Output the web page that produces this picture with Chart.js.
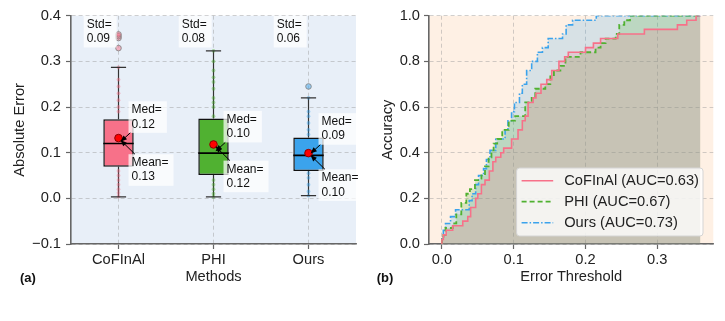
<!DOCTYPE html>
<html><head><meta charset="utf-8">
<script src="https://cdn.jsdelivr.net/npm/chart.js@4.4.1/dist/chart.umd.min.js"></script>
<style>
html,body{margin:0;padding:0;background:#fff;}
#wrap{position:relative;width:725px;height:321px;overflow:hidden;}
#c1{position:absolute;left:0;top:0;}
#c2{position:absolute;left:362px;top:0;}
</style></head><body>
<div id="wrap"><canvas id="c1" width="362" height="321"></canvas><canvas id="c2" width="363" height="321"></canvas></div>
<script>
// ---------- data: panel (a) ----------
const categories = ['CoFInAl', 'PHI', 'Ours'];
const q1 = [0.069, 0.051, 0.060];
const medians = [0.120, 0.099, 0.094];
const q3 = [0.173, 0.175, 0.133];
const whiskerLow = [0.003, 0.003, 0.006];
const whiskerHigh = [0.287, 0.323, 0.220];
const means = [0.132, 0.118, 0.099];
const stds = [0.09, 0.08, 0.06];
const outliers = [[0.329, 0.351, 0.355, 0.359], [], [0.245]];
const stripPoints = [
  [0.004, 0.012, 0.02, 0.03, 0.04, 0.05, 0.06, 0.19, 0.20, 0.215, 0.23, 0.245, 0.26, 0.287],
  [0.003, 0.01, 0.02, 0.03, 0.04, 0.18, 0.20, 0.21, 0.22, 0.24, 0.255, 0.265, 0.28, 0.30, 0.323],
  [0.006, 0.015, 0.03, 0.045, 0.055, 0.14, 0.15, 0.165, 0.18, 0.19, 0.22]
];
const yTicksA = [-0.1, 0.0, 0.1, 0.2, 0.3, 0.4];

// ---------- data: panel (b) ----------
const aucs = [0.63, 0.67, 0.73];
const cofinalThr = [0, 0.002, 0.006, 0.015, 0.029, 0.036, 0.040, 0.047, 0.050, 0.055, 0.060, 0.066, 0.071, 0.075, 0.082, 0.086, 0.097, 0.106, 0.112, 0.116, 0.120, 0.127, 0.131, 0.138, 0.146, 0.153, 0.163, 0.171, 0.176, 0.200, 0.211, 0.221, 0.245, 0.282, 0.328, 0.341, 0.354, 0.357, 0.360];
const cofinalAcc = [0, 0.02, 0.04, 0.06, 0.08, 0.10, 0.12, 0.16, 0.20, 0.22, 0.26, 0.28, 0.32, 0.36, 0.38, 0.40, 0.42, 0.46, 0.50, 0.54, 0.56, 0.62, 0.64, 0.66, 0.70, 0.72, 0.76, 0.80, 0.82, 0.84, 0.86, 0.88, 0.90, 0.92, 0.94, 0.96, 0.98, 1.00, 1.00];
const phiThr = [0, 0.002, 0.005, 0.015, 0.020, 0.027, 0.034, 0.039, 0.046, 0.055, 0.060, 0.065, 0.069, 0.072, 0.077, 0.084, 0.093, 0.102, 0.116, 0.125, 0.130, 0.144, 0.151, 0.156, 0.165, 0.172, 0.193, 0.214, 0.221, 0.228, 0.242, 0.247, 0.254, 0.262, 0.323, 0.360];
const phiAcc = [0, 0.02, 0.04, 0.07, 0.09, 0.13, 0.18, 0.22, 0.24, 0.28, 0.30, 0.34, 0.38, 0.41, 0.44, 0.46, 0.50, 0.54, 0.56, 0.62, 0.64, 0.68, 0.70, 0.74, 0.76, 0.78, 0.82, 0.84, 0.86, 0.88, 0.90, 0.92, 0.96, 0.98, 1.00, 1.00];
const oursThr = [0, 0.002, 0.005, 0.012, 0.019, 0.038, 0.042, 0.047, 0.051, 0.058, 0.062, 0.067, 0.075, 0.088, 0.092, 0.097, 0.101, 0.108, 0.112, 0.118, 0.125, 0.133, 0.140, 0.148, 0.168, 0.173, 0.182, 0.215, 0.242, 0.360];
const oursAcc = [0, 0.03, 0.06, 0.09, 0.12, 0.15, 0.19, 0.22, 0.26, 0.30, 0.33, 0.37, 0.41, 0.46, 0.50, 0.54, 0.58, 0.62, 0.66, 0.70, 0.76, 0.80, 0.84, 0.86, 0.90, 0.92, 0.96, 0.98, 1.00, 1.00];
const xTicksB = [0.0, 0.1, 0.2, 0.3];
const yTicksB = [0.0, 0.2, 0.4, 0.6, 0.8, 1.0];

// ---------- styles ----------
const FONT = '"Liberation Sans", Arial, Helvetica, sans-serif';
const colors = ['#f77189', '#50b131', '#3ba3ec'];
const BOX_HALF = 0.16, CAP_HALF = 0.08;
Chart.defaults.font.family = FONT;
Chart.defaults.font.size = 14.67;
Chart.defaults.color = '#222';

const fmtTick = v => (v < -1e-9 ? '\u2212' : '') + Math.abs(v).toFixed(1);

const bgPlugin = {
  id: 'bg',
  beforeDraw(chart, args, opts) {
    const {ctx, chartArea: a} = chart;
    ctx.save(); ctx.fillStyle = opts.color;
    ctx.fillRect(a.left, a.top, a.width, a.height); ctx.restore();
  }
};
const panelLabel = {
  id: 'panelLabel',
  afterDraw(chart, args, opts) {
    const ctx = chart.ctx;
    ctx.save(); ctx.font = 'bold 13px ' + FONT; ctx.fillStyle = '#111';
    ctx.textBaseline = 'middle'; ctx.textAlign = 'left';
    ctx.fillText(opts.text, opts.x, opts.y); ctx.restore();
  }
};

function axisCommon(width, tickPad) {
  return {
    grid: {color: 'rgba(150,150,150,0.55)', lineWidth: 0.8, tickLength: 5, tickColor: '#666', tickWidth: 1.2, tickBorderDash: [], offset: false},
    border: {display: true, color: '#666', width: 1.6, dash: [4, 3]},
    ticks: {padding: tickPad, color: '#222', autoSkip: false, maxRotation: 0, minRotation: 0}
  };
}

// ---------- panel (a) ----------
const whiskerData = [], capMedData = [], meanData = [], outData = [], outColors = [], stripData = [], stripColors = [];
categories.forEach((c, i) => {
  whiskerData.push({x: i, y: whiskerLow[i]}, {x: i, y: q1[i]}, {x: i, y: null}, {x: i, y: q3[i]}, {x: i, y: whiskerHigh[i]}, {x: i, y: null});
  capMedData.push({x: i - CAP_HALF, y: whiskerLow[i]}, {x: i + CAP_HALF, y: whiskerLow[i]}, {x: i, y: null},
                  {x: i - CAP_HALF, y: whiskerHigh[i]}, {x: i + CAP_HALF, y: whiskerHigh[i]}, {x: i, y: null});
  meanData.push({x: i, y: means[i]});
  outliers[i].forEach(v => { outData.push({x: i, y: v}); outColors.push(colors[i] + '80'); });
  stripPoints[i].forEach(v => { stripData.push({x: i, y: v}); stripColors.push(colors[i] + '70'); });
});
const medData = [];
categories.forEach((c, i) => { medData.push({x: i - BOX_HALF, y: medians[i]}, {x: i + BOX_HALF, y: medians[i]}, {x: i, y: null}); });

function labelBox(ctx, lines, tx, cy) {
  const LH = 14.3;
  const w = Math.max(...lines.map(s => ctx.measureText(s).width));
  const box = {l: tx - 3, r: tx + w + 5, t: cy - LH - 1.5, b: cy + LH + 1.5};
  ctx.fillStyle = 'rgba(255,255,255,0.72)';
  ctx.fillRect(box.l, box.t, box.r - box.l, box.b - box.t);
  ctx.fillStyle = '#111';
  ctx.fillText(lines[0], tx, cy - LH / 2);
  ctx.fillText(lines[1], tx, cy + LH / 2);
  return box;
}
function arrowFromBox(ctx, box, px, py) {
  const cx = (box.l + box.r) / 2, cy = (box.t + box.b) / 2;
  const dx = px - cx, dy = py - cy;
  const tx = dx > 0 ? (box.r - cx) / dx : (box.l - cx) / dx;
  const ty = dy > 0 ? (box.b - cy) / dy : (box.t - cy) / dy;
  const t = Math.min(Math.abs(tx), Math.abs(ty));
  const sx = cx + dx * t, sy = cy + dy * t;
  const len = Math.hypot(px - sx, py - sy);
  const ux = (px - sx) / len, uy = (py - sy) / len;
  const ex = px - ux * 2.7, ey = py - uy * 2.7;
  const hl = 6.5, hw = 2.6;
  ctx.strokeStyle = '#000'; ctx.fillStyle = '#000'; ctx.lineWidth = 1;
  ctx.beginPath(); ctx.moveTo(sx, sy); ctx.lineTo(ex - ux * hl * 0.8, ey - uy * hl * 0.8); ctx.stroke();
  ctx.beginPath();
  ctx.moveTo(ex, ey);
  ctx.lineTo(ex - ux * hl - uy * hw, ey - uy * hl + ux * hw);
  ctx.lineTo(ex - ux * hl + uy * hw, ey - uy * hl - ux * hw);
  ctx.closePath(); ctx.fill();
}
const annotPlugin = {
  id: 'annot',
  afterDatasetsDraw(chart) {
    const {ctx, scales: {x, y}} = chart;
    ctx.save();
    ctx.font = '12px ' + FONT; ctx.textBaseline = 'middle'; ctx.textAlign = 'left';
    categories.forEach((c, i) => {
      labelBox(ctx, ['Std=', stds[i].toFixed(2)], x.getPixelForValue(i - 0.335), y.getPixelForValue(0.365));
      const mb = labelBox(ctx, ['Med=', medians[i].toFixed(2)], x.getPixelForValue(i + 0.137), y.getPixelForValue(medians[i] + 0.058));
      const nb = labelBox(ctx, ['Mean=', means[i].toFixed(2)], x.getPixelForValue(i + 0.137), y.getPixelForValue(means[i] - 0.07));
      arrowFromBox(ctx, mb, x.getPixelForValue(i), y.getPixelForValue(medians[i]));
      arrowFromBox(ctx, nb, x.getPixelForValue(i), y.getPixelForValue(means[i]));
    });
    ctx.restore();
  }
};

const axA_x = axisCommon(0, 2);
const axA_y = axisCommon(0, 5);
new Chart(document.getElementById('c1'), {
  type: 'bar',
  data: {
    datasets: [
      {type: 'line', data: whiskerData, borderColor: '#333', borderWidth: 1.2, pointRadius: 0, spanGaps: false, order: 6},
      {type: 'scatter', data: stripData, backgroundColor: stripColors, borderWidth: 0, pointRadius: 1.9, order: 5},
      {type: 'bar', data: categories.map((c, i) => ({x: i, y: [q1[i], q3[i]]})), backgroundColor: colors, borderColor: '#111', borderWidth: 1.5, borderSkipped: false, barPercentage: 0.32, categoryPercentage: 1.0, order: 4},
      {type: 'line', data: capMedData, borderColor: '#333', borderWidth: 1.3, pointRadius: 0, spanGaps: false, order: 3},
      {type: 'line', data: medData, borderColor: '#000', borderWidth: 1.6, pointRadius: 0, spanGaps: false, order: 3},
      {type: 'scatter', data: outData, backgroundColor: outColors, borderColor: '#888', borderWidth: 0.9, pointRadius: 2.8, order: 2},
      {type: 'scatter', data: meanData, backgroundColor: '#ff0000', borderColor: '#8b0000', borderWidth: 1, pointRadius: 3.8, order: 1}
    ]
  },
  options: {
    responsive: false, animation: false, devicePixelRatio: 1,
    layout: {padding: {left: 0, right: 6, top: 15.7, bottom: 0}},
    plugins: {legend: {display: false}, tooltip: {enabled: false},
      bg: {color: '#e8eff8'}, panelLabel: {text: '(a)', x: 20, y: 278}},
    scales: {
      x: Object.assign({}, axA_x, {
        type: 'linear', min: -0.5, max: 2.5, offset: false,
        afterBuildTicks: s => { s.ticks = categories.map((c, i) => ({value: i})); },
        afterFit: s => { s.height = 77; },
        ticks: Object.assign({}, axA_x.ticks, {callback: v => categories[v]}),
        title: {display: true, text: 'Methods', padding: {top: 0, bottom: 35.5}, color: '#222'}
      }),
      y: Object.assign({}, axA_y, {
        type: 'linear', min: -0.1, max: 0.4,
        afterBuildTicks: s => { s.ticks = yTicksA.map(v => ({value: v})); },
        afterFit: s => { s.width = 71; },
        ticks: Object.assign({}, axA_y.ticks, {callback: fmtTick}),
        title: {display: true, text: 'Absolute Error', padding: {top: 10.7, bottom: 0}, color: '#222'}
      })
    }
  },
  plugins: [bgPlugin, annotPlugin, panelLabel]
});

// ---------- panel (b) ----------
const legendPlugin = {
  id: 'cdfLegend',
  afterDraw(chart) {
    const {ctx, chartArea: a} = chart;
    const ds = chart.data.datasets;
    ctx.save();
    ctx.font = '14.67px ' + FONT;
    const tw = Math.max(...ds.map(d => ctx.measureText(d.label).width));
    const w = 5 + 31.6 + 11 + tw + 4, h = 68;
    const r = a.right - 10.3, b = a.bottom - 8;
    const l = r - w, t = b - h;
    ctx.beginPath();
    ctx.roundRect(l, t, w, h, 3);
    ctx.fillStyle = 'rgba(255,255,255,0.8)'; ctx.fill();
    ctx.strokeStyle = '#d4d4d4'; ctx.lineWidth = 1; ctx.stroke();
    ds.forEach((d, i) => {
      const cy = t + 12.7 + i * 21;
      ctx.beginPath(); ctx.setLineDash(d.borderDash || []);
      ctx.strokeStyle = d.borderColor; ctx.lineWidth = d.borderWidth;
      ctx.moveTo(l + 5, cy); ctx.lineTo(l + 36.6, cy); ctx.stroke();
      ctx.setLineDash([]);
      ctx.fillStyle = '#222'; ctx.textBaseline = 'middle'; ctx.textAlign = 'left';
      ctx.fillText(d.label, l + 47.6, cy);
    });
    ctx.restore();
  }
};
const toPts = (xs, ys) => xs.map((v, i) => ({x: v, y: ys[i]}));
const axB_x = axisCommon(0, 2);
const axB_y = axisCommon(0, 4);
new Chart(document.getElementById('c2'), {
  type: 'line',
  data: {
    datasets: [
      {label: categories[0] + ' (AUC=' + aucs[0].toFixed(2) + ')', data: toPts(cofinalThr, cofinalAcc), borderColor: colors[0], backgroundColor: colors[0] + '33', borderWidth: 1.6, borderDash: [], fill: 'origin', stepped: 'after', pointRadius: 0},
      {label: categories[1] + ' (AUC=' + aucs[1].toFixed(2) + ')', data: toPts(phiThr, phiAcc), borderColor: colors[1], backgroundColor: colors[1] + '33', borderWidth: 1.8, borderDash: [5, 3], fill: 'origin', stepped: 'after', pointRadius: 0},
      {label: categories[2] + ' (AUC=' + aucs[2].toFixed(2) + ')', data: toPts(oursThr, oursAcc), borderColor: colors[2], backgroundColor: colors[2] + '33', borderWidth: 1.6, borderDash: [6, 2, 1.5, 2], fill: 'origin', stepped: 'after', pointRadius: 0}
    ]
  },
  options: {
    responsive: false, animation: false, devicePixelRatio: 1,
    layout: {padding: {left: 0, right: 11.7, top: 15.7, bottom: 0}},
    plugins: {legend: {display: false}, tooltip: {enabled: false},
      filler: {drawTime: 'beforeDatasetsDraw'},
      bg: {color: '#fef0e4'}, panelLabel: {text: '(b)', x: 14.7, y: 278}},
    scales: {
      x: Object.assign({}, axB_x, {
        type: 'linear', min: -0.018, max: 0.378,
        afterBuildTicks: s => { s.ticks = xTicksB.map(v => ({value: v})); },
        afterFit: s => { s.height = 77; },
        ticks: Object.assign({}, axB_x.ticks, {callback: fmtTick}),
        title: {display: true, text: 'Error Threshold', padding: {top: 0, bottom: 35.5}, color: '#222'}
      }),
      y: Object.assign({}, axB_y, {
        type: 'linear', min: 0, max: 1,
        afterBuildTicks: s => { s.ticks = yTicksB.map(v => ({value: v})); },
        afterFit: s => { s.width = 67; },
        ticks: Object.assign({}, axB_y.ticks, {callback: fmtTick}),
        title: {display: true, text: 'Accuracy', padding: {top: 16.7, bottom: 0}, color: '#222'}
      })
    }
  },
  plugins: [bgPlugin, legendPlugin, panelLabel]
});
</script>
</body></html>
